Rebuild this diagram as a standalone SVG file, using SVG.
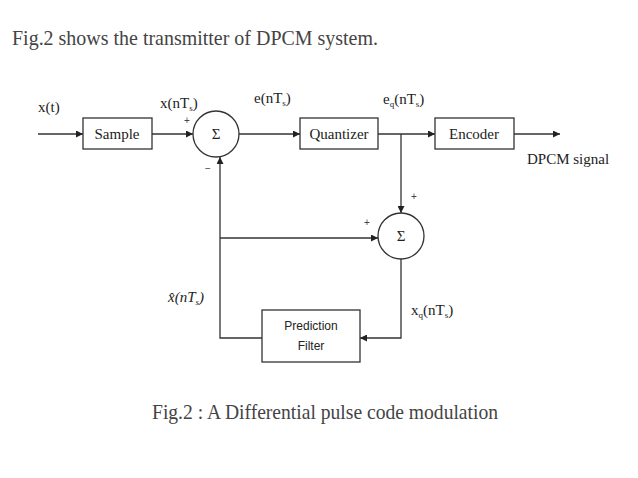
<svg xmlns="http://www.w3.org/2000/svg" width="638" height="478" viewBox="0 0 638 478">
<style>
.b{fill:#fff;stroke:#333;stroke-width:1.3}
.l{fill:none;stroke:#333;stroke-width:1.3}
.t{font-family:"Liberation Serif",serif;font-size:15px;fill:#222}
.s{font-family:"Liberation Sans",sans-serif;font-size:12px;fill:#222}
.p{font-family:"Liberation Sans",sans-serif;font-size:10px;fill:#444}
</style>
<defs><marker id="a" viewBox="0 0 10 10" refX="10" refY="5" markerWidth="7" markerHeight="7" orient="auto" markerUnits="userSpaceOnUse"><path d="M0,0L10,5L0,10z" fill="#222"/></marker></defs>
<rect width="638" height="478" fill="#fff"/>
<text x="12" y="45" font-family="Liberation Serif,serif" font-size="21" fill="#444" textLength="366" lengthAdjust="spacingAndGlyphs">Fig.2  shows the transmitter of DPCM system.</text>
<g id="connectors">
<path class="l" d="M38,134H83" marker-end="url(#a)"/>
<path class="l" d="M152,134H193" marker-end="url(#a)"/>
<path class="l" d="M239,134H300" marker-end="url(#a)"/>
<path class="l" d="M378,134H435" marker-end="url(#a)"/>
<path class="l" d="M514,134H560" marker-end="url(#a)"/>
<path class="l" d="M401,134V213" marker-end="url(#a)"/>
<path class="l" d="M220,238H378" marker-end="url(#a)"/>
<path class="l" d="M262,338H220V157" marker-end="url(#a)"/>
<path class="l" d="M401,259V338H360" marker-end="url(#a)"/>
</g>
<g id="sample"><rect class="b" x="83" y="118" width="69" height="31"/><text class="t" x="117" y="139" text-anchor="middle">Sample</text></g>
<g id="sum1"><circle class="b" cx="216" cy="134" r="23"/><text class="t" x="216" y="139" text-anchor="middle" font-size="13">Σ</text></g>
<g id="quantizer"><rect class="b" x="300" y="118" width="78" height="31"/><text class="t" x="339" y="139" text-anchor="middle">Quantizer</text></g>
<g id="encoder"><rect class="b" x="435" y="118" width="79" height="31"/><text class="t" x="474" y="139" text-anchor="middle">Encoder</text></g>
<g id="sum2"><circle class="b" cx="401" cy="236" r="23"/><text class="t" x="401" y="241" text-anchor="middle" font-size="13">Σ</text></g>
<g id="filter"><rect class="b" x="262" y="310" width="98" height="52"/><text class="s" x="311" y="330" text-anchor="middle">Prediction</text><text class="s" x="311" y="350" text-anchor="middle">Filter</text></g>
<g id="labels">
<text class="t" x="38" y="112" font-size="15">x(t)</text>
<text class="t" x="160" y="108" font-size="15">x(nT<tspan font-size="9" dy="3">s</tspan><tspan dy="-3">)</tspan></text>
<text class="p" x="184" y="124">+</text>
<text class="t" x="254" y="103" font-size="15">e(nT<tspan font-size="9" dy="3">s</tspan><tspan dy="-3">)</tspan></text>
<text class="t" x="383" y="104" font-size="15">e<tspan font-size="9" dy="3">q</tspan><tspan dy="-3">(nT</tspan><tspan font-size="9" dy="3">s</tspan><tspan dy="-3">)</tspan></text>
<text class="t" x="527" y="164" font-size="15">DPCM signal</text>
<text class="p" x="411" y="200">+</text>
<text class="p" x="364" y="226">+</text>
<text class="p" x="205" y="172">−</text>
<text class="t" x="168" y="302" font-size="16" font-style="italic">x̂(nT<tspan font-size="9" dy="3">s</tspan><tspan dy="-3">)</tspan></text>
<text class="t" x="411" y="315" font-size="15">x<tspan font-size="9" dy="3">q</tspan><tspan dy="-3">(nT</tspan><tspan font-size="9" dy="3">s</tspan><tspan dy="-3">)</tspan></text>
</g>
<text x="152" y="419" font-family="Liberation Serif,serif" font-size="21" fill="#444" textLength="346" lengthAdjust="spacingAndGlyphs">Fig.2 : A Differential pulse code modulation</text>
</svg>
